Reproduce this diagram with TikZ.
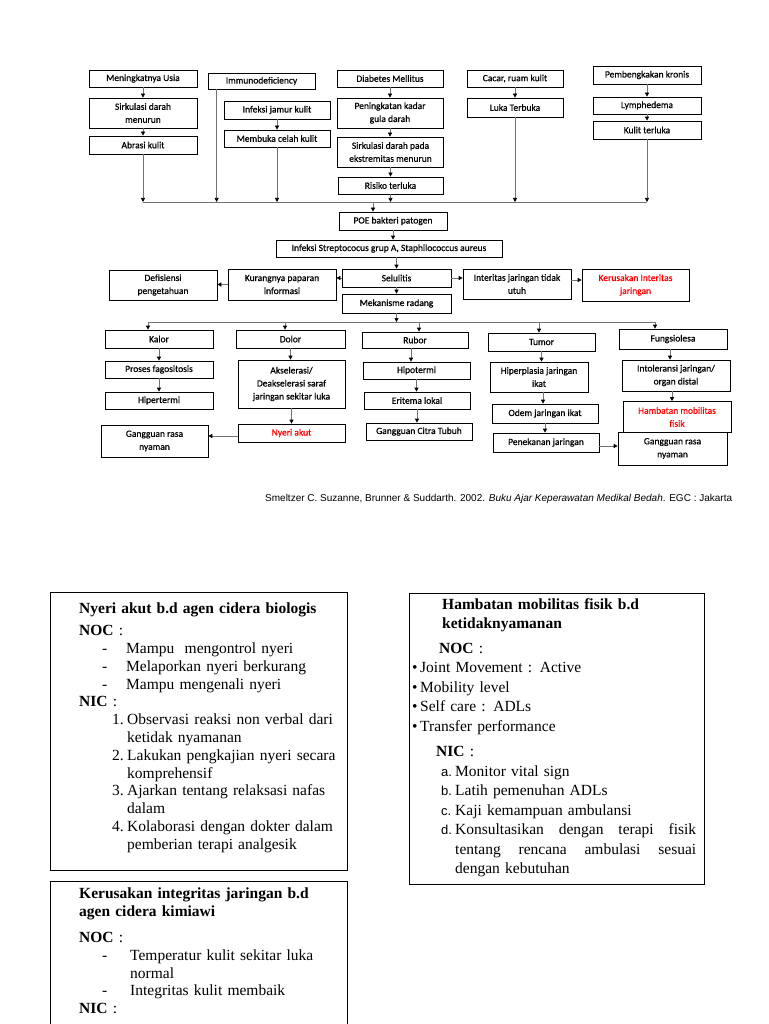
\documentclass[tikz,border=0pt]{standalone}
\usepackage{fontspec}
\setmainfont{Liberation Serif}
\newfontfamily\chartfont[FakeBold=0.6]{Carlito}
\newfontfamily\citefont{Liberation Sans}
\usetikzlibrary{arrows.meta}
\usetikzlibrary{positioning}
\tikzstyle{box}=[draw,fill=white,line width=0.7pt,inner sep=1pt,align=center,font=\chartfont\fontsize{9.5}{13}\selectfont]
\tikzstyle{diag}=[text=red]
\tikzstyle{feed}=[draw=black!55,line width=0.7pt,-{Triangle[length=4pt,width=4pt,color=black]}]
\tikzstyle{bus}=[draw=black!55,line width=0.7pt]
\newcommand{\dashitem}[2][47pt]{\noindent\hangindent=#1\hangafter=1\makebox[#1][l]{\hspace{23pt}-}#2\par}
\newcommand{\numitem}[2]{\noindent\hangindent=48pt\hangafter=1\makebox[48pt][l]{\hspace{33pt}#1}#2\par}
\newcommand{\dotitem}[1]{\noindent\makebox[8pt][l]{\textbullet}#1\par}
\newcommand{\letitem}[2]{\noindent\hangindent=43pt\hangafter=1\makebox[43pt][l]{\hspace{29pt}{\citefont\fontsize{13}{19.5}\selectfont #1}}#2\par}
\begin{document}
\begin{tikzpicture}[
  x=1pt, y=-1pt,
  sz/.style 2 args={minimum width=#1pt,minimum height=#2pt},
  panel/.style={draw,line width=0.8pt,anchor=north west,inner sep=0},
  plan/.style={anchor=north west,inner sep=0,align=left,font=\fontsize{15.5}{17.8}\selectfont},
]
\useasboundingbox (0,0) rectangle (768,1024);
\fill[white] (0,0) rectangle (768,1024);
% causes
\node[box,sz={108}{17}] (usia) at (143,78.5) {Meningkatnya Usia};
\node[box,sz={108}{30}] (sirkulasi) at (143,113) {Sirkulasi darah\\menurun};
\node[box,sz={108}{18}] (abrasi) at (143,145) {Abrasi kulit};
\node[box,sz={107}{16}] (immuno) at (261.5,81) {Immunodeficiency};
\node[box,sz={106}{18}] (jamur) at (277,110) {Infeksi jamur kulit};
\node[box,sz={106}{17}] (celah) at (277,138.5) {Membuka celah kulit};
\node[box,sz={106}{17}] (dm) at (390,78.5) {Diabetes Mellitus};
\node[box,sz={106}{30}] (gula) at (390,113) {Peningkatan kadar\\gula darah};
\node[box,sz={106}{30}] (ekstremitas) at (390.5,152) {Sirkulasi darah pada\\ekstremitas menurun};
\node[box,sz={105}{17}] (risiko) at (390.5,185.5) {Risiko terluka};
\node[box,sz={96}{17}] (cacar) at (515,78.5) {Cacar, ruam kulit};
\node[box,sz={96}{19}] (luka) at (515,107.5) {Luka Terbuka};
\node[box,sz={108}{18}] (kronis) at (647,75) {Pembengkakan kronis};
\node[box,sz={108}{17}] (lymph) at (647,105.5) {Lymphedema};
\node[box,sz={108}{18}] (terluka) at (647,130) {Kulit terluka};
% middle
\node[box,sz={108}{18}] (poe) at (393,221) {POE bakteri patogen};
\node[box,sz={226}{17}] (infeksi) at (389,248.5) {Infeksi Streptococus grup A, Staphilococcus aureus};
\node[box,sz={109}{18}] (selulitis) at (396.5,278) {Selulitis};
\node[box,sz={109}{19}] (radang) at (396.5,303.5) {Mekanisme radang};
\node[box,sz={108}{31}] (kurang) at (282,284.5) {Kurangnya paparan\\informasi};
\node[box,sz={108}{30}] (defisiensi) at (163,285) {Defisiensi\\pengetahuan};
\node[box,sz={108}{30}] (interitas) at (517,284) {Interitas jaringan tidak\\utuh};
\node[box,diag,sz={107}{32}] (kerusakan) at (635.5,285) {Kerusakan Interitas\\jaringan};
% signs
\node[box,sz={108}{18}] (kalor) at (159,339) {Kalor};
\node[box,sz={108}{17}] (fagositosis) at (159,369.5) {Proses fagositosis};
\node[box,sz={108}{17}] (hipertermi) at (159,400.5) {Hipertermi};
\node[box,sz={107}{32}] (rasa1) at (154.5,441) {Gangguan rasa\\nyaman};
\node[box,sz={109}{18}] (dolor) at (290.5,339) {Dolor};
\node[box,sz={107}{48}] (akselerasi) at (291.5,384) {Akselerasi/\\Deakselerasi saraf\\jaringan sekitar luka};
\node[box,diag,sz={107}{18}] (nyeri) at (291.5,433) {Nyeri akut};
\node[box,sz={106}{16}] (rubor) at (415,340) {Rubor};
\node[box,sz={107}{17}] (hipotermi) at (416.5,370.5) {Hipotermi};
\node[box,sz={106}{17}] (eritema) at (417,400.5) {Eritema lokal};
\node[box,sz={106}{17}] (citra) at (419,431.5) {Gangguan Citra Tubuh};
\node[box,sz={107}{18}] (tumor) at (541.5,342) {Tumor};
\node[box,sz={98}{30}] (hiperplasia) at (539,377) {Hiperplasia jaringan\\ikat};
\node[box,sz={106}{19}] (odem) at (545,413.5) {Odem jaringan ikat};
\node[box,sz={106}{19}] (tekanan) at (546,442.5) {Penekanan jaringan};
\node[box,sz={108}{20}] (fungsi) at (673,339) {Fungsiolesa};
\node[box,sz={108}{31}] (intoleransi) at (676,375.5) {Intoleransi jaringan/\\organ distal};
\node[box,diag,sz={108}{31}] (hambatan) at (677,417) {Hambatan mobilitas\\fisik};
\node[box,sz={109}{33}] (rasa2) at (672.5,448.5) {Gangguan rasa\\nyaman};

\coordinate (busA) at (0,202);
\coordinate (busB) at (0,322);

\draw[feed] (usia.south) -- (usia.south |- sirkulasi.north);
\draw[feed] (sirkulasi.south) -- (sirkulasi.south |- abrasi.north);
\draw[feed] (jamur.south) -- (jamur.south |- celah.north);
\draw[feed] (dm.south) -- (dm.south |- gula.north);
\draw[feed] (gula.south) -- (gula.south |- ekstremitas.north);
\draw[feed] (ekstremitas.south) -- (ekstremitas.south |- risiko.north);
\draw[feed] (cacar.south) -- (cacar.south |- luka.north);
\draw[feed] (kronis.south) -- (kronis.south |- lymph.north);
\draw[feed] (lymph.south) -- (lymph.south |- terluka.north);

\draw[bus] (abrasi.south |- busA) -- (terluka.south |- busA);
\draw[feed] (abrasi.south) -- (abrasi.south |- busA);
\draw[feed] ([xshift=9pt]immuno.south west) -- ([xshift=9pt]immuno.south west |- busA);
\draw[feed] (celah.south) -- (celah.south |- busA);
\draw[feed] (risiko.south) -- (risiko.south |- busA);
\draw[feed] (luka.south) -- (luka.south |- busA);
\draw[feed] (terluka.south) -- (terluka.south |- busA);
\draw[feed] ([xshift=-20pt]poe.north |- busA) -- ([xshift=-20pt]poe.north);

\draw[feed] (poe.south) -- (poe.south |- infeksi.north);
\draw[feed] (selulitis.north |- infeksi.south) -- (selulitis.north);
\draw[feed] (selulitis.south) -- (radang.north);
\draw[feed] (selulitis.west) -- (selulitis.west -| kurang.east);
\draw[feed] (kurang.west) -- (kurang.west -| defisiensi.east);
\draw[feed] (selulitis.east) -- (selulitis.east -| interitas.west);
\draw[feed] ([yshift=4pt]interitas.east) -- ([yshift=4pt]interitas.east -| kerusakan.west);

\draw[feed] (radang.south) -- (radang.south |- busB);
\draw[bus] ([xshift=-11pt]kalor.north |- busB) -- ([xshift=-18pt]fungsi.north |- busB);
\draw[feed] ([xshift=-11pt]kalor.north |- busB) -- ([xshift=-11pt]kalor.north);
\draw[feed] ([xshift=-5.5pt]dolor.north |- busB) -- ([xshift=-5.5pt]dolor.north);
\draw[feed] ([xshift=4pt]rubor.north |- busB) -- ([xshift=4pt]rubor.north);
\draw[feed] ([xshift=-2.5pt]tumor.north |- busB) -- ([xshift=-2.5pt]tumor.north);
\draw[feed] ([xshift=-18pt]fungsi.north |- busB) -- ([xshift=-18pt]fungsi.north);

\draw[feed] (kalor.south) -- (kalor.south |- fagositosis.north);
\draw[feed] (fagositosis.south) -- (fagositosis.south |- hipertermi.north);
\draw[feed] (dolor.south) -- (dolor.south |- akselerasi.north);
\draw[feed] (akselerasi.south) -- (akselerasi.south |- nyeri.north);
\draw[feed] ([yshift=-3pt]nyeri.west) -- ([yshift=-3pt]nyeri.west -| rasa1.east);
\draw[feed] ([xshift=-4pt]rubor.south) -- ([xshift=-4pt]rubor.south |- hipotermi.north);
\draw[feed] (hipotermi.south) -- (hipotermi.south |- eritema.north);
\draw[feed] (eritema.south) -- (eritema.south |- citra.north);
\draw[feed] (tumor.south) -- (tumor.south |- hiperplasia.north);
\draw[feed] ([xshift=4pt]hiperplasia.south) -- ([xshift=4pt]hiperplasia.south |- odem.north);
\draw[feed] (odem.south) -- (odem.south |- tekanan.north);
\draw[feed] ([yshift=-3.5pt]tekanan.east) -- ([yshift=-3.5pt]tekanan.east -| rasa2.west);
\draw[feed] ([xshift=-3pt]fungsi.south) -- ([xshift=-3pt]fungsi.south |- intoleransi.north);
\draw[feed] ([xshift=-4pt]intoleransi.south) -- ([xshift=-4pt]intoleransi.south |- hambatan.north);
% source
\node[anchor=base west,inner sep=0,font=\citefont\fontsize{10}{12}\selectfont] (sumber) at (265,501)
  {Smeltzer C. Suzanne, Brunner \& Suddarth. 2002. \textit{Buku Ajar Keperawatan Medikal Bedah}. EGC : Jakarta};
% care plans
\node[panel,minimum width=297pt,minimum height=278pt] (nyeribox) at (50,592) {};
\node[plan,text width=265pt] (nyeriplan) at (79,603) {%
  \textbf{Nyeri akut b.d agen cidera biologis}\par\vspace{4pt}
  \noindent\textbf{NOC} :\par
  \dashitem{Mampu\ \ mengontrol nyeri}
  \dashitem{Melaporkan nyeri berkurang}
  \dashitem{Mampu mengenali nyeri}
  \noindent\textbf{NIC} :\par
  \numitem{1.}{Observasi reaksi non verbal dari\newline ketidak nyamanan}
  \numitem{2.}{Lakukan pengkajian nyeri secara\newline komprehensif}
  \numitem{3.}{Ajarkan tentang relaksasi nafas\newline dalam}
  \numitem{4.}{Kolaborasi dengan dokter dalam\newline pemberian terapi analgesik}};
\node[panel,minimum width=295pt,minimum height=291pt] (mobilbox) at (409,593) {};
\node[plan,text width=290pt,font=\fontsize{15.5}{19.5}\selectfont] (mobilplan) at (412,598) {%
  \noindent\hspace*{30pt}\textbf{Hambatan mobilitas fisik b.d}\\\hspace*{30pt}\textbf{ketidaknyamanan}\par\vspace{5pt}
  \noindent\hspace*{27pt}\textbf{NOC} :\par
  \dotitem{Joint Movement : Active}
  \dotitem{Mobility level}
  \dotitem{Self care : ADLs}
  \dotitem{Transfer performance}\vspace{6pt}
  \noindent\hspace*{24pt}\textbf{NIC} :\par
  \letitem{a.}{Monitor vital sign}
  \letitem{b.}{Latih pemenuhan ADLs}
  \letitem{c.}{Kaji kemampuan ambulansi}
  \letitem{d.}{\hbox to 241pt{Konsultasikan\hfil dengan\hfil terapi\hfil fisik}\newline
    \hbox to 241pt{tentang\hfil rencana\hfil ambulasi\hfil sesuai}\newline dengan kebutuhan}};
\node[panel,minimum width=297pt,minimum height=170pt] (kulitbox) at (50,881) {};
\node[plan,text width=265pt,font=\fontsize{15.5}{17.8}\selectfont] (kulitplan) at (79,888) {%
  \textbf{Kerusakan integritas jaringan b.d}\\\textbf{agen cidera kimiawi}\par\vspace{8pt}
  \noindent\textbf{NOC} :\par
  \dashitem[51pt]{Temperatur kulit sekitar luka\newline normal}
  \dashitem[51pt]{Integritas kulit membaik}
  \noindent\textbf{NIC} :\par};
\end{tikzpicture}
\end{document}
